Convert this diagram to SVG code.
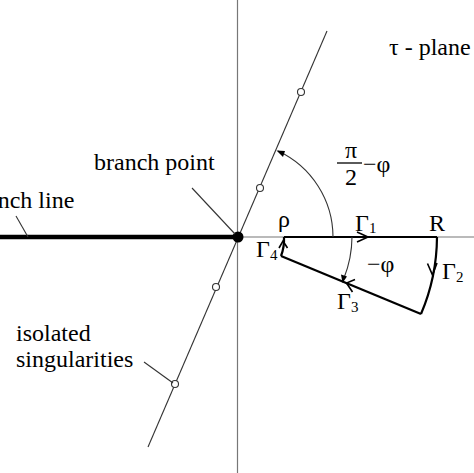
<svg xmlns="http://www.w3.org/2000/svg" width="474" height="473" viewBox="0 0 474 473">
<style>
text{font-family:"Liberation Serif","Times New Roman",serif;font-size:24px;fill:#000}
.sub{font-size:15px}
.axis{stroke:#777;stroke-width:1.2;fill:none}
.thin{stroke:#333;stroke-width:1.1;fill:none}
.contour{stroke:#000;stroke-width:2.2;fill:none}
.chev{stroke:#000;stroke-width:1.6;fill:none;stroke-linejoin:miter}
.head{fill:#000;stroke:none}
.sing{fill:#fff;stroke:#333;stroke-width:1.1}
</style>
<rect width="474" height="473" fill="#fff"/>
<g id="axes">
<line class="axis" x1="237.5" y1="0" x2="237.5" y2="473"/>
<line class="axis" x1="238" y1="237" x2="474" y2="237"/>
</g>
<g id="branch-line">
<line x1="0" y1="237" x2="238" y2="237" stroke="#000" stroke-width="4.5"/>
<text x="-33" y="208">branch line</text>
</g>
<g id="ray">
<line class="thin" x1="327" y1="31" x2="148" y2="447"/>
</g>
<g id="singularities">
<circle class="sing" cx="301" cy="92" r="3.5"/>
<circle class="sing" cx="260" cy="188" r="3.5"/>
<circle class="sing" cx="216" cy="287" r="3.5"/>
<circle class="sing" cx="175" cy="384" r="3.5"/>
<text x="16" y="341">isolated</text>
<text x="16" y="367">singularities</text>
</g>
<g id="branch-point">
<circle cx="238" cy="237" r="5.5" fill="#000"/>
<text x="94" y="170">branch point</text>
</g>
<g id="connectors">
<line class="thin" x1="192" y1="188" x2="235" y2="234"/>
<line class="thin" x1="16" y1="216" x2="28" y2="237"/>
<line class="thin" x1="144" y1="362" x2="173" y2="383"/>
</g>
<g id="contour">
<line class="contour" x1="284" y1="237" x2="437" y2="237"/>
<path class="contour" d="M437 237 A199 199 0 0 1 421 314"/>
<line class="contour" x1="421" y1="314" x2="281" y2="256"/>
<path class="contour" d="M281 256 A46 46 0 0 0 284 237"/>
<path class="chev" d="M357 232 L368 237 L357 242"/>
<path class="chev" d="M427.5 263.5 L432.5 275 L437 263"/>
<path class="chev" d="M355 279.5 L346.5 283 L352.5 292"/>
<path class="chev" d="M279 248 L283 241 L287.5 248"/>
</g>
<g id="angles">
<path class="thin" d="M333 237 A95 95 0 0 0 278 151"/>
<path class="head" d="M276.5 150.5 L285 151 L283 157 Z"/>
<path class="thin" d="M352 237 A114 114 0 0 1 344 278"/>
<path class="head" d="M342.5 283 L341 274.5 L347 276.5 Z"/>
</g>
<g id="labels">
<text x="389" y="55">τ - plane</text>
<text x="351" y="158" text-anchor="middle">π</text>
<line x1="337" y1="163" x2="362" y2="163" stroke="#000" stroke-width="1.3"/>
<text x="351" y="185" text-anchor="middle">2</text>
<text x="363" y="172">−φ</text>
<text x="278" y="227">ρ</text>
<text x="355" y="231">Γ<tspan class="sub" dy="2">1</tspan></text>
<text x="429" y="231">R</text>
<text x="256" y="257">Γ<tspan class="sub" dy="3">4</tspan></text>
<text x="367" y="272">−φ</text>
<text x="442" y="279">Γ<tspan class="sub" dy="3">2</tspan></text>
<text x="337" y="309">Γ<tspan class="sub" dy="3">3</tspan></text>
</g>
</svg>
